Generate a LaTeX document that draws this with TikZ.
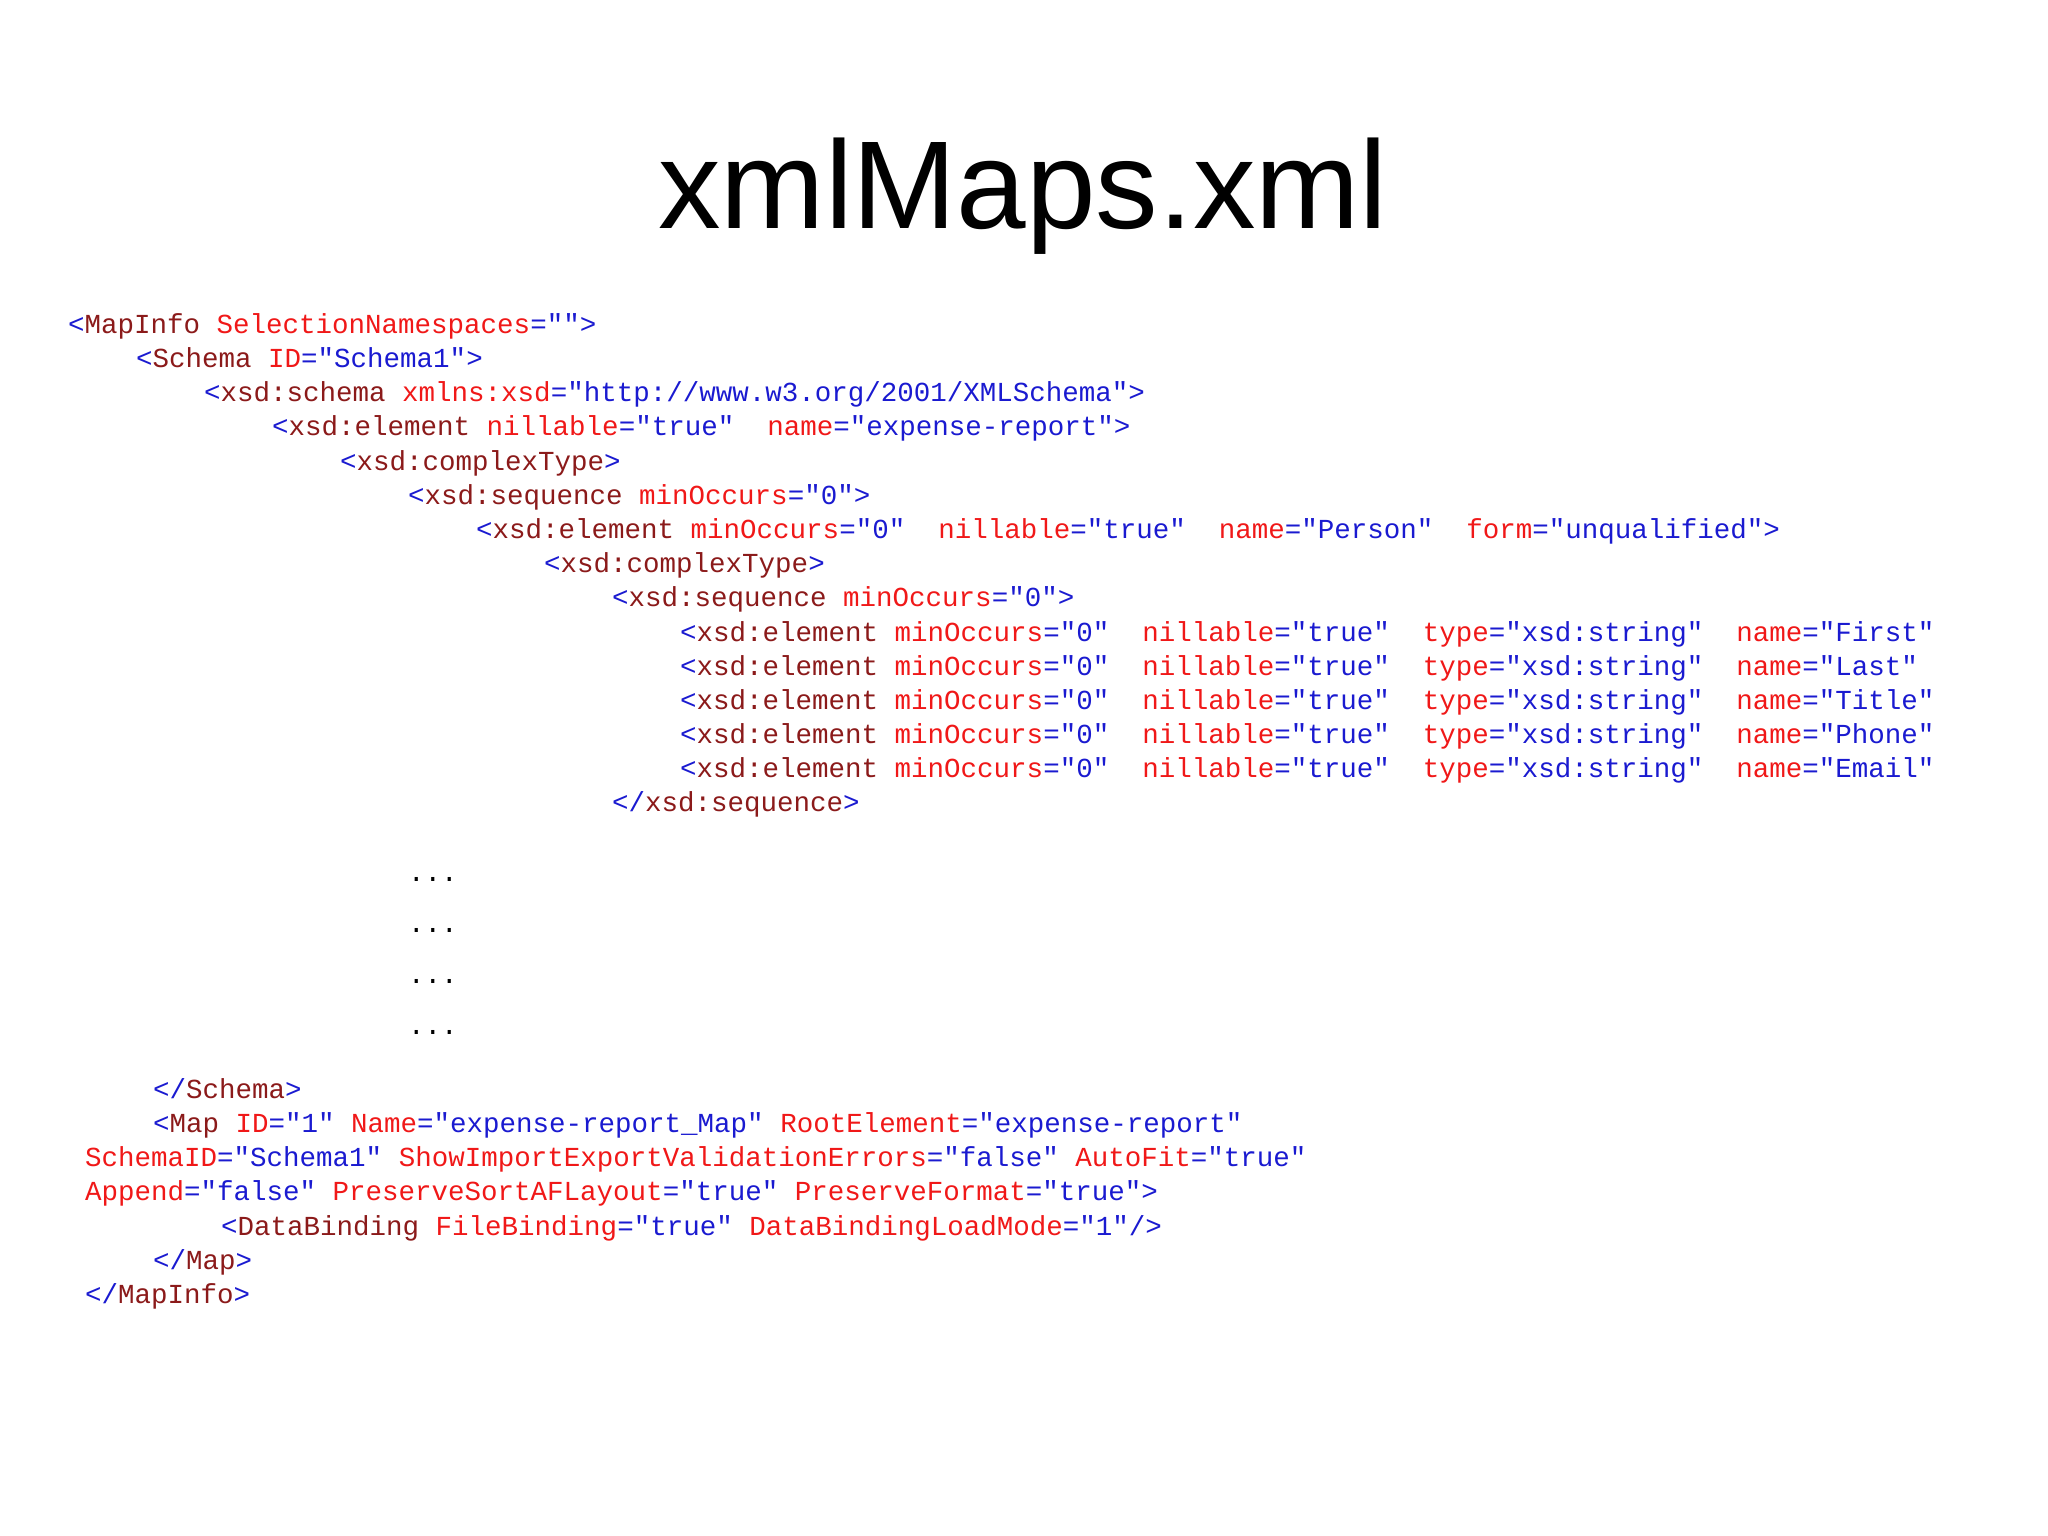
\documentclass[tikz,border=0pt]{standalone}
\usepackage{fontspec}
\setmainfont{Liberation Sans}
\setmonofont{Liberation Mono}
\definecolor{xb}{HTML}{1A1AD0}
\definecolor{xr}{HTML}{F01818}
\definecolor{xm}{HTML}{8B1A1A}
\newcommand\xop[1]{\textcolor{xb}{<}\textcolor{xm}{#1}}
\newcommand\xcl[1]{\textcolor{xb}{</}\textcolor{xm}{#1}\textcolor{xb}{>}}
\newcommand\xat[2]{\textcolor{xr}{#1}\textcolor{xb}{="#2"}}
\newcommand\xgt{\textcolor{xb}{>}}
\newcommand\xsl{\textcolor{xb}{/>}}
\begin{document}
\begin{tikzpicture}[x=1pt,y=-1pt,
  code/.style={anchor=mid west,inner sep=0pt,font=\ttfamily\fontsize{27.5}{30}\selectfont}]
\useasboundingbox (0,0) rectangle (2048,1536);
\node[font=\fontsize{125}{130}\selectfont] (title) at (1023,196) {xmlMaps.xml};
\def\cx#1{68+#1*17.0}
\def\cy#1{#1+7}
\node[code] (l1) at (\cx{0},\cy{324}) {\xop{MapInfo} \xat{SelectionNamespaces}{}\xgt};
\node[code] (l2) at (\cx{4},\cy{358}) {\xop{Schema} \xat{ID}{Schema1}\xgt};
\node[code] (l3) at (\cx{8},\cy{392}) {\xop{xsd:schema} \xat{xmlns:xsd}{http://www.w3.org/2001/XMLSchema}\xgt};
\node[code] (l4) at (\cx{12},\cy{426}) {\xop{xsd:element} \xat{nillable}{true}\ \ \xat{name}{expense-report}\xgt};
\node[code] (l5) at (\cx{16},\cy{461}) {\xop{xsd:complexType}\xgt};
\node[code] (l6) at (\cx{20},\cy{495}) {\xop{xsd:sequence} \xat{minOccurs}{0}\xgt};
\node[code] (l7) at (\cx{24},\cy{529}) {\xop{xsd:element} \xat{minOccurs}{0}\ \ \xat{nillable}{true}\ \ \xat{name}{Person}\ \ \xat{form}{unqualified}\xgt};
\node[code] (l8) at (\cx{28},\cy{563}) {\xop{xsd:complexType}\xgt};
\node[code] (l9) at (\cx{32},\cy{597}) {\xop{xsd:sequence} \xat{minOccurs}{0}\xgt};
\foreach \nm/\yy in {First/632,Last/666,Title/700,Phone/734,Email/768}{
\node[code] (e\nm) at (\cx{36},\cy{\yy}) {\xop{xsd:element} \xat{minOccurs}{0}\ \ \xat{nillable}{true}\ \ \xat{type}{xsd:string}\ \ \xat{name}{\nm}};
}
\node[code] (l15) at (\cx{32},\cy{802}) {\xcl{xsd:sequence}};
\foreach \yy [count=\i] in {872,923,974,1025}{
\node[code] (d\i) at (\cx{20},\cy{\yy}) {...};
}
\node[code] (m1) at (\cx{5},\cy{1089}) {\xcl{Schema}};
\node[code] (m2) at (\cx{5},\cy{1123}) {\xop{Map} \xat{ID}{1} \xat{Name}{expense-report\_Map} \xat{RootElement}{expense-report}};
\node[code] (m3) at (\cx{1},\cy{1157}) {\xat{SchemaID}{Schema1} \xat{ShowImportExportValidationErrors}{false} \xat{AutoFit}{true}};
\node[code] (m4) at (\cx{1},\cy{1191}) {\xat{Append}{false} \xat{PreserveSortAFLayout}{true} \xat{PreserveFormat}{true}\xgt};
\node[code] (m5) at (\cx{9},\cy{1226}) {\xop{DataBinding} \xat{FileBinding}{true} \xat{DataBindingLoadMode}{1}\xsl};
\node[code] (m6) at (\cx{5},\cy{1260}) {\xcl{Map}};
\node[code] (m7) at (\cx{1},\cy{1294}) {\xcl{MapInfo}};
\end{tikzpicture}
\end{document}
